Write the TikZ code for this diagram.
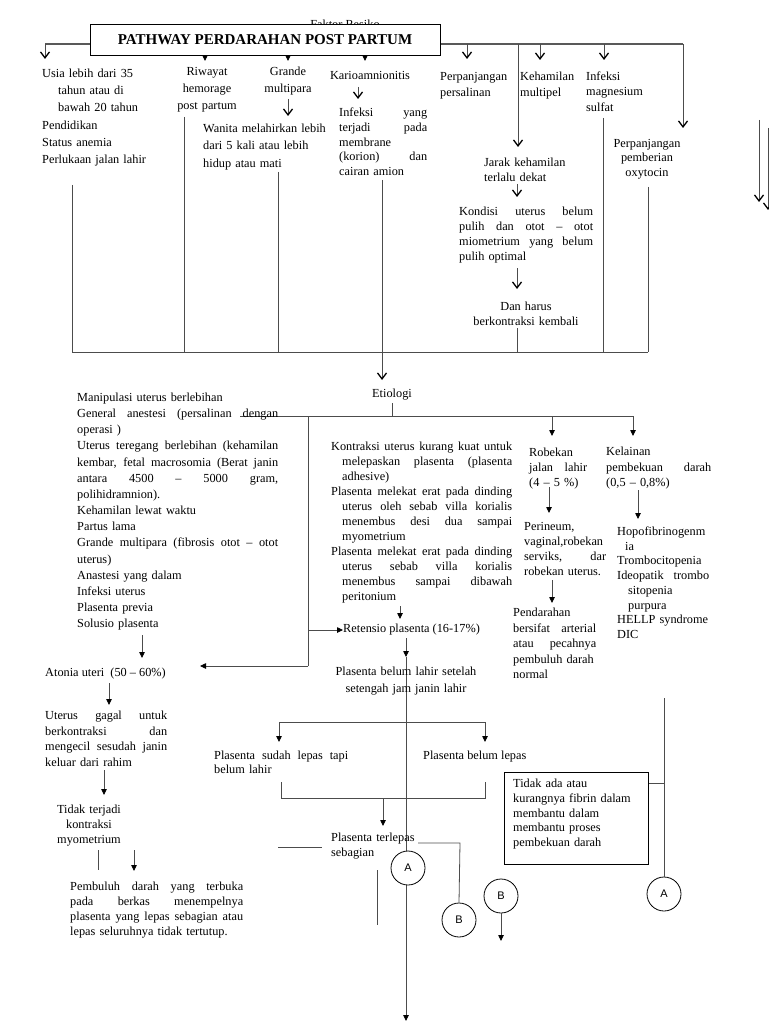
\documentclass[tikz,border=0pt]{standalone}
\usepackage{fontspec}
\setmainfont{Liberation Serif}
\newfontfamily\circfont{Liberation Sans}
\usetikzlibrary{arrows.meta}
\newcommand\J[2]{\makebox[#1pt][s]{\spaceskip=0pt\xspaceskip=0pt #2}}
\begin{document}
\begin{tikzpicture}[x=1pt,y=-1pt,
  ln/.style={draw=black!70, line width=0.8pt},
  bus/.style={draw=black!65, line width=1.6pt},
  vee/.style={ln, -{Straight Barb[length=6pt,width=9pt,line width=1.3pt,color=black]}},
  tri/.style={ln, -{Triangle[length=6pt,width=5.5pt,color=black]}},
  txt/.style={inner sep=0pt, anchor=base west, align=left, font=\fontsize{12.3}{#1}\selectfont},
  txt/.default=15,
  ctxt/.style={inner sep=0pt, anchor=base, align=center, font=\fontsize{12.3}{#1}\selectfont},
  ctxt/.default=15,
  circ/.style={circle, draw=black, line width=0.8pt, fill=white, minimum size=34pt, inner sep=0pt, font=\circfont\fontsize{11}{11}\selectfont},
  tbox/.style={draw=black, line width=0.8pt, fill=white}
]
\useasboundingbox (0,0) rectangle (768,1024);

% ---------- top bus ----------
\node[ctxt] (faktor) at (345,29) {Faktor Resiko};
\foreach \x/\n in {45/a1,205/a2,288/a3,365/a4,467/a5,518/a6,540/a7,604/a8,683/a9}
  \coordinate (\n) at (\x,44);
\draw[bus] (a1) -- (a9);
\draw[vee] (a1) -- ++(0,15);
\draw[tri] (a2) -- ++(0,17);
\draw[tri] (a3) -- ++(0,17);
\draw[tri] (a4) -- ++(0,17);
\draw[vee] (a5) -- ++(0,15);
\draw[vee] (a6) -- ++(0,103);
\draw[vee] (a7) -- ++(0,16);
\draw[vee] (a8) -- ++(0,16);
\draw[vee] (a9) -- ++(0,84);

\node[tbox, minimum width=350pt, minimum height=31pt, font=\bfseries\fontsize{15}{16}\selectfont] (title) at (265,39.5) {PATHWAY PERDARAHAN POST PARTUM};

% ---------- risk factors ----------
\node[txt=17.2, text width=120pt] (usia) at (42,77.5) {Usia lebih dari 35\\\hspace*{16pt}tahun atau di\\\hspace*{16pt}bawah 20 tahun\\Pendidikan\\Status anemia\\Perlukaan jalan lahir};
\node[ctxt=17, text width=70pt] (riw) at (207,75.5) {Riwayat\\hemorage\\post partum};
\node[ctxt=17, text width=70pt] (grande) at (288,75.5) {Grande\\multipara};
\draw[vee] (288,99) -- (288,116);
\node[txt=17.5, text width=130pt] (wanita) at (203,132.5) {Wanita melahirkan lebih\\dari 5 kali atau lebih\\hidup atau mati};
\node[ctxt] (kario) at (370,80) {Karioamnionitis};
\draw[vee] (358,87) -- (358,99);
\node[txt=14.8, text width=88pt] (infek) at (339,116.5) {\J{88}{Infeksi yang}\\\J{88}{terjadi pada}\\membrane\\\J{88}{(korion) dan}\\cairan amion};
\node[txt=16, text width=80pt] (perp) at (440,80.5) {Perpanjangan\\persalinan};
\node[txt=16, text width=60pt] (kehm) at (520,80.5) {Kehamilan\\multipel};
\node[txt=15.5, text width=70pt] (infmg) at (586,80.5) {Infeksi\\magnesium\\sulfat};
\node[ctxt=14.5, text width=90pt] (oxy) at (647,147.5) {Perpanjangan\\pemberian\\oxytocin};
\node[txt=15, text width=100pt] (jarak) at (484,166.5) {Jarak kehamilan\\terlalu dekat};
\draw[vee] (517,184) -- (517,197);
\node[txt=15, text width=134pt] (kond) at (459,215.5) {\J{134}{Kondisi uterus belum}\\\J{134}{pulih dan otot -- otot}\\\J{134}{miometrium yang belum}\\pulih optimal};
\draw[vee] (517,268) -- (517,289);
\node[ctxt=15, text width=120pt] (dan) at (526,310.5) {Dan harus\\berkontraksi kembali};

% stray arrows at right edge
\draw[vee] (759,120) -- (759,202);
\draw[vee] (768,128) -- (768,210);

% ---------- main bus ----------
\coordinate (mL) at (72,352);
\coordinate (mR) at (648,352);
\draw[ln] (mL) -- (mR);
\draw[ln] (72,185) -- (mL);
\draw[ln] (184,117) -- (184,352);
\draw[ln] (278,172) -- (278,352);
\draw[ln] (382,180) -- (382,352);
\draw[ln] (517,328) -- (517,352);
\draw[ln] (603,118) -- (603,352);
\draw[ln] (648,187) -- (mR);

% ---------- etiologi ----------
\node[ctxt] (etio) at (392,397.5) {Etiologi};
\draw[vee] (382,352) -- (382,380);
\coordinate (eL) at (240,416);
\coordinate (eR) at (633,416);
\draw[ln] (392,403) -- (392,416);
\draw[ln] (eL) -- (eR);
\draw[tri] (552,416) -- (552,436);
\draw[tri] (eR) -- (633,436);

\node[txt=16.15, text width=201pt] (cause) at (77,401.5) {Manipulasi uterus berlebihan\\\J{201}{General anestesi (persalinan dengan}\\operasi )\\\J{201}{Uterus teregang berlebihan (kehamilan}\\\J{201}{kembar, fetal macrosomia (Berat janin}\\\J{201}{antara 4500 -- 5000 gram,}\\polihidramnion).\\Kehamilan lewat waktu\\Partus lama\\\J{201}{Grande multipara (fibrosis otot -- otot}\\uterus)\\Anastesi yang dalam\\Infeksi uterus\\Plasenta previa\\Solusio plasenta};

\node[txt=15, text width=181pt] (kontr) at (331,450.5) {\J{181}{Kontraksi uterus kurang kuat untuk}\\\J{181}{\hspace*{11pt}melepaskan plasenta (plasenta}\\\hspace*{11pt}adhesive)\\\J{181}{Plasenta melekat erat pada dinding}\\\J{181}{\hspace*{11pt}uterus oleh sebab villa korialis}\\\J{181}{\hspace*{11pt}menembus desi dua sampai}\\\hspace*{11pt}myometrium\\\J{181}{Plasenta melekat erat pada dinding}\\\J{181}{\hspace*{11pt}uterus sebab villa korialis}\\\J{181}{\hspace*{11pt}menembus sampai dibawah}\\\hspace*{11pt}peritonium};

\node[txt=15, text width=58pt] (robek) at (529,456.5) {Robekan\\\J{58}{jalan lahir}\\(4 -- 5 \%)};
\draw[tri] (549,487) -- (549,513);
\node[txt=15, text width=82pt] (perin) at (524,530.5) {Perineum,\\vaginal,robekan\\\J{82}{serviks, dar}\\robekan uterus.};
\draw[tri] (552,580) -- (552,603);
\node[txt=15.5, text width=83pt] (pendar) at (513,616.5) {Pendarahan\\\J{83}{bersifat arterial}\\\J{83}{atau pecahnya}\\pembuluh darah\\normal};

\node[txt=15.5, text width=105pt] (kelain) at (606,455.5) {Kelainan\\\J{105}{pembekuan darah}\\(0,5 -- 0,8\%)};
\draw[tri] (638,490) -- (638,519);
\node[txt=14.7, text width=95pt] (hopo) at (617,535.5) {Hopofibrinogenm\\\hspace*{8pt}ia\\Trombocitopenia\\\J{92}{Ideopatik trombo}\\\hspace*{11pt}sitopenia\\\hspace*{11pt}purpura\\HELLP syndrome\\DIC};

% ---------- retensio / atonia ----------
\coordinate (vT) at (308,416);
\coordinate (vB) at (308,666);
\draw[ln] (vT) -- (vB);
\node[txt] (reten) at (343,632.5) {Retensio plasenta (16-17\%)};
\draw[tri] (308,630) -- (reten.west |- 0,630);
\draw[tri] (400,606) -- (400,619);

\node[txt] (atonia) at (45,676.5) {Atonia uteri\ \ (50 -- 60\%)};
\draw[tri] (vB) -- (200,666);
\draw[tri] (142,635) -- (142,658);
\draw[tri] (109,683) -- (109,705);
\node[txt=15.7, text width=122pt] (gagal) at (45,719.5) {\J{122}{Uterus gagal untuk}\\\J{122}{berkontraksi dan}\\\J{122}{mengecil sesudah janin}\\keluar dari rahim};
\draw[tri] (104,770) -- (104,795);
\node[ctxt=15, text width=90pt] (tidak) at (89,813.5) {Tidak terjadi\\kontraksi\\myometrium};
\draw[ln] (98,850) -- (98,870);
\draw[tri] (134,850) -- (134,871);
\node[txt=15, text width=173pt] (pemb) at (70,890.5) {\J{173}{Pembuluh darah yang terbuka}\\\J{173}{pada berkas menempelnya}\\\J{173}{plasenta yang lepas sebagian atau}\\lepas seluruhnya tidak tertutup.};

% ---------- plasenta branch ----------
\draw[tri] (406,638) -- (406,657);
\draw[tri] (406,657) -- (406,1021);
\node[ctxt=17, text width=160pt] (belum) at (406,675.5) {Plasenta belum lahir setelah\\setengah jam janin lahir};
\coordinate (bL) at (279,722);
\coordinate (bR) at (485,722);
\draw[ln] (bL) -- (bR);
\draw[tri] (bL) -- (279,742);
\draw[tri] (bR) -- (485,742);
\node[txt=14, text width=134pt] (sudah) at (214,759.5) {\J{134}{Plasenta sudah lepas tapi}\\belum lahir};
\node[txt] (blepas) at (423,759.5) {Plasenta belum lepas};
\draw[ln] (281,782) -- (281,798) -- (485,798) -- (485,782);
\draw[tri] (383,798) -- (383,826);
\node[txt=15, text width=100pt] (terlep) at (331,841.5) {Plasenta terlepas\\sebagian};
\draw[ln] (278,847) -- (322,847);
\draw[ln] (377,870) -- (377,925);

\node[circ] (A1) at (408,868) {A};
\node[circ] (B1) at (459,920) {B};
\draw[ln] (418,843) -- (460,843) -- (B1.north);
\node[circ] (B2) at (501,896) {B};
\draw[tri] (B2.south) -- (501,941);

% ---------- fibrin box ----------
\node[draw=black, line width=0.8pt, minimum width=144pt, minimum height=92pt, anchor=north west, inner sep=0pt] (fibbox) at (504,772) {};
\node[txt=14.75, text width=130pt] (fibtxt) at (513,787.5) {Tidak ada atau\\kurangnya fibrin dalam\\membantu dalam\\membantu proses\\pembekuan darah};
\node[circ] (A2) at (664,894) {A};
\draw[ln] (664,698) -- (A2.north);
\draw[ln] (fibbox.east |- 0,783) -- (664,783);
\end{tikzpicture}
\end{document}
